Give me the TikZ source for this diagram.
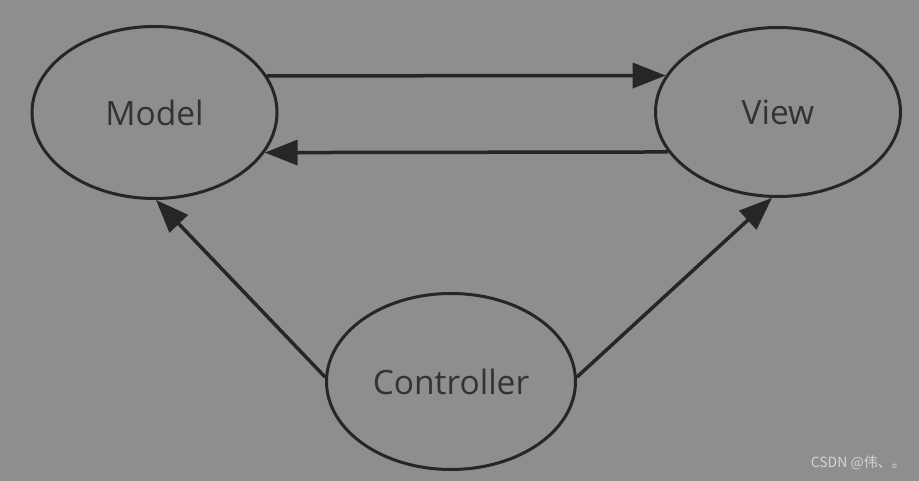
\documentclass[tikz,border=0pt]{standalone}
\usepackage{fontspec}
\setmainfont{Open Sans}
\newfontfamily\cjk{Noto Sans CJK SC}
\usetikzlibrary{shapes.geometric,arrows.meta}
\definecolor{bgc}{HTML}{8E8E8E}
\definecolor{lnc}{HTML}{262626}
\definecolor{txc}{HTML}{333333}
\definecolor{wmc}{HTML}{D4D4D4}
\begin{document}
\begin{tikzpicture}[x=1pt,y=-1pt,
  oval/.style={ellipse,draw=lnc,line width=3pt,inner sep=0pt,text=txc,font=\fontsize{33.5}{38}\selectfont},
  link/.style={draw=lnc,line width=3.5pt,-{Triangle[length=33pt,width=25pt]}}]
\fill[bgc] (0,0) rectangle (919,481);
\useasboundingbox (0,0) rectangle (919,481);
\node[oval,minimum width=245pt,minimum height=172pt] (model) at (154.5,112.5) {Model};
\node[oval,minimum width=245pt,minimum height=169pt] (view) at (778,112) {View};
\node[oval,minimum width=249pt,minimum height=176pt] (ctrl) at (451,381.5) {Controller};
\draw[link] (model.18) -- (view.162);
\draw[link] (view.-160) -- (model.-20);
\draw[link] (ctrl.178) -- (model.-89);
\draw[link] (ctrl.2) -- (view.-94);
\node[text=wmc,font=\cjk\fontsize{14}{16}\selectfont,anchor=east,inner sep=0pt] (wm) at (906,463) {CSDN @伟、。};
\end{tikzpicture}
\end{document}
